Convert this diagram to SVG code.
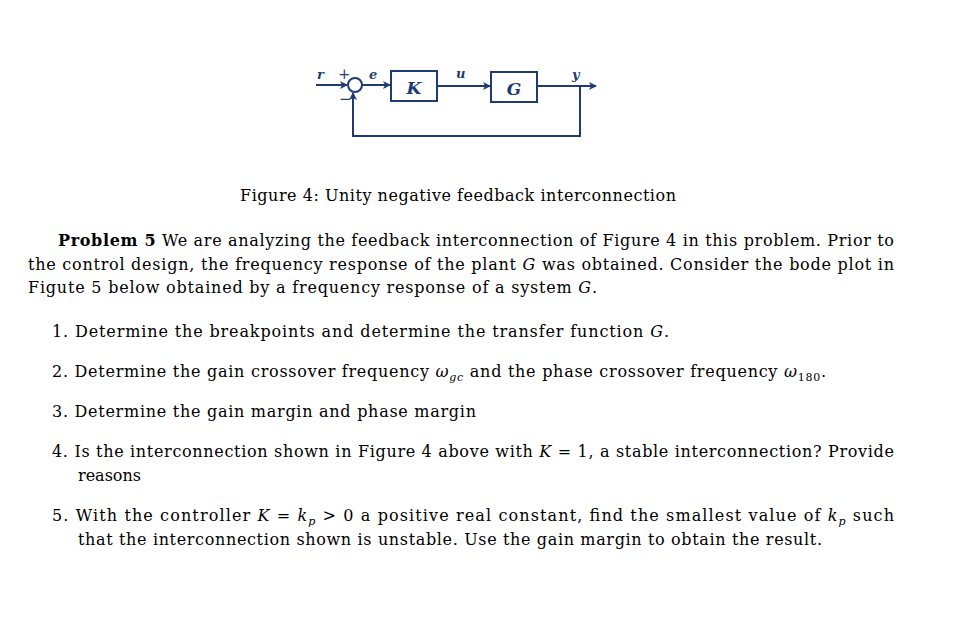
<svg xmlns="http://www.w3.org/2000/svg" width="977" height="633" viewBox="0 0 977 633">
<defs><marker id="a" markerWidth="8" markerHeight="8" refX="7" refY="4" orient="auto" markerUnits="userSpaceOnUse"><path d="M0,0 L8,4 L0,8 L2,4z" fill="#1f3b73"/></marker></defs>
<style>
.l{stroke:#1f3b73;stroke-width:2;fill:none}
.b{font-family:"DejaVu Serif",serif;font-weight:bold;font-style:italic;fill:#1f3b73}
.t{font-family:"DejaVu Serif",serif;font-size:16px;fill:#000}
.i{font-style:italic}
</style>
<rect width="977" height="633" fill="#fff"/>
<g id="sum"><circle class="l" cx="355" cy="85" r="7"/></g>
<g id="K"><rect class="l" x="391" y="71" width="46" height="30"/><text class="b" x="414" y="94" font-size="17" text-anchor="middle">K</text></g>
<g id="G"><rect class="l" x="491" y="72" width="46" height="30"/><text class="b" x="514" y="95" font-size="17" text-anchor="middle">G</text></g>
<g id="connectors">
<path class="l" d="M316,85 H347" marker-end="url(#a)"/>
<path class="l" d="M362,85 H390" marker-end="url(#a)"/>
<path class="l" d="M437,86 H490" marker-end="url(#a)"/>
<path class="l" d="M537,86 H596" marker-end="url(#a)"/>
<path class="l" d="M580,86 V136 H353 V93" marker-end="url(#a)"/>
</g>
<g class="b" font-size="13">
<text x="317" y="79">r</text><text x="338" y="79" font-style="normal" font-weight="normal" font-size="15">+</text><text x="339" y="104" font-style="normal" font-weight="normal" font-size="15">−</text>
<text x="369" y="79">e</text><text x="456" y="78">u</text><text x="572" y="79">y</text>
</g>
<text class="t" x="240" y="201" textLength="436">Figure 4: Unity negative feedback interconnection</text>
<text class="t" x="58" y="246" textLength="836"><tspan font-weight="bold">Problem 5</tspan> We are analyzing the feedback interconnection of Figure 4 in this problem. Prior to</text>
<text class="t" x="28" y="270" textLength="866">the control design, the frequency response of the plant <tspan class="i">G</tspan> was obtained. Consider the bode plot in</text>
<text class="t" x="28" y="293" textLength="569">Figute 5 below obtained by a frequency response of a system <tspan class="i">G</tspan>.</text>
<text class="t" x="52" y="337" textLength="617">1. Determine the breakpoints and determine the transfer function <tspan class="i">G</tspan>.</text>
<text class="t" x="52" y="377" textLength="774">2. Determine the gain crossover frequency <tspan class="i">ω</tspan><tspan class="i" font-size="11" dy="4">gc</tspan><tspan dy="-4"> and the phase crossover frequency </tspan><tspan class="i">ω</tspan><tspan font-size="11" dy="4">180</tspan><tspan dy="-4">.</tspan></text>
<text class="t" x="52" y="417" textLength="424">3. Determine the gain margin and phase margin</text>
<text class="t" x="52" y="457" textLength="842">4. Is the interconnection shown in Figure 4 above with <tspan class="i">K</tspan> = 1, a stable interconnection? Provide</text>
<text class="t" x="78" y="481" textLength="63">reasons</text>
<text class="t" x="52" y="521" textLength="842">5. With the controller <tspan class="i">K</tspan> = <tspan class="i">k</tspan><tspan class="i" font-size="11" dy="4">p</tspan><tspan dy="-4"> &gt; 0 a positive real constant, find the smallest value of </tspan><tspan class="i">k</tspan><tspan class="i" font-size="11" dy="4">p</tspan><tspan dy="-4"> such</tspan></text>
<text class="t" x="78" y="545" textLength="744">that the interconnection shown is unstable. Use the gain margin to obtain the result.</text>
</svg>
